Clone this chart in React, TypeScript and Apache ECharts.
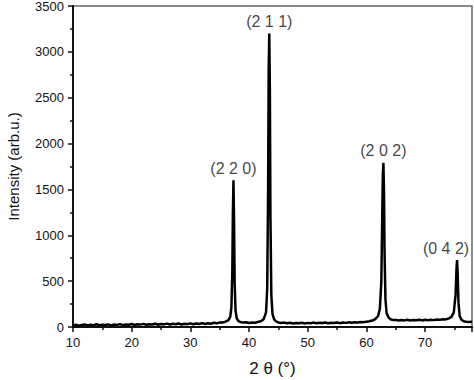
import React, { useEffect, useRef } from "react";
import * as echarts from "echarts";

const twoTheta: number[] = [
  10, 10.5, 11, 11.5, 12, 12.5, 13, 13.5, 14, 14.5, 15, 15.5, 16, 16.5, 17, 17.5,
  18, 18.5, 19, 19.5, 20, 20.5, 21, 21.5, 22, 22.5, 23, 23.5, 24, 24.5, 25, 25.5,
  26, 26.5, 27, 27.5, 28, 28.5, 29, 29.5, 30, 30.5, 31, 31.5, 32, 32.5, 33, 33.5,
  34, 34.5, 35, 35.5, 36, 36.5, 36.8, 37.0, 37.15, 37.25, 37.35, 37.45, 37.55, 37.7,
  37.9, 38.2, 38.5, 39, 39.5, 40, 40.5, 41, 41.5, 42, 42.5, 42.9, 43.1, 43.25, 43.35,
  43.45, 43.55, 43.65, 43.8, 44.0, 44.3, 44.7, 45, 45.5, 46, 46.5, 47, 47.5, 48, 48.5,
  49, 49.5, 50, 50.5, 51, 51.5, 52, 52.5, 53, 53.5, 54, 54.5, 55, 55.5, 56, 56.5, 57,
  57.5, 58, 58.5, 59, 59.5, 60, 60.5, 61, 61.5, 62, 62.3, 62.55, 62.7, 62.8, 62.9, 63.0,
  63.1, 63.25, 63.45, 63.8, 64.2, 64.7, 65, 65.5, 66, 66.5, 67, 67.5, 68, 68.5, 69, 69.5,
  70, 70.5, 71, 71.5, 72, 72.5, 73, 73.5, 74, 74.5, 74.9, 75.2, 75.35, 75.45, 75.55,
  75.7, 75.9, 76.2, 76.6, 77, 77.5, 78,
];

const intensity: number[] = [
  18, 25, 15, 22, 28, 17, 24, 20, 30, 19, 26, 21, 29, 18, 27, 23,
  31, 20, 28, 24, 33, 22, 30, 26, 34, 24, 31, 27, 36, 25, 33, 29,
  37, 27, 35, 30, 38, 28, 36, 31, 40, 30, 38, 33, 42, 32, 41, 36,
  46, 40, 50, 48, 58, 75, 110, 220, 600, 1250, 1600, 1150, 480, 180,
  95, 65, 55, 48, 52, 44, 50, 46, 55, 62, 85, 160, 420, 1500, 2800,
  3200, 2600, 1200, 350, 140, 80, 58, 50, 44, 48, 40, 46, 38, 44, 41,
  47, 39, 45, 42, 48, 40, 46, 43, 49, 41, 47, 44, 50, 42, 48, 45, 51,
  46, 52, 49, 55, 53, 58, 62, 70, 85, 120, 200, 500, 1200, 1650, 1790, 1500,
  800, 300, 150, 100, 82, 75, 78, 70, 76, 72, 79, 71, 77, 73, 80, 72,
  78, 74, 80, 75, 82, 78, 85, 83, 92, 110, 160, 350, 620, 730, 600,
  260, 120, 80, 62, 58, 55, 57,
];

// Peak annotations
const peakNames: string[] = ["(2 2 0)", "(2 1 1)", "(2 0 2)", "(0 4 2)"];
const peakTheta: number[] = [37.35, 43.45, 62.9, 75.45];
const peakIntensity: number[] = [1600, 3200, 1790, 730];
const peakLabelShift: number[] = [0, 0, 0, -11];

export default function App() {
  const ref = useRef<HTMLDivElement>(null);

  useEffect(() => {
    if (!ref.current) return;
    const chart = echarts.init(ref.current, undefined, { renderer: "svg" });
    const font = "'Liberation Sans', Arial, sans-serif";
    chart.setOption({
      animation: false,
      grid: {
        left: 73,
        right: 2,
        top: 6,
        bottom: 53,
        show: true,
        borderColor: "#666",
        borderWidth: 1.5,
        outerBoundsMode: "none",
        containLabel: false,
      },
      xAxis: {
        type: "value",
        min: 10,
        max: 78,
        interval: 10,
        name: "2 θ (°)",
        nameLocation: "middle",
        nameGap: 33,
        nameTextStyle: { fontFamily: font, fontSize: 17, color: "#111" },
        axisLine: { show: true, onZero: false, lineStyle: { color: "#111", width: 2 } },
        axisTick: { show: true, inside: false, length: 5, lineStyle: { color: "#111", width: 1.5 } },
        minorTick: { show: true, splitNumber: 2, length: 3, lineStyle: { color: "#111", width: 1.5 } },
        axisLabel: { fontFamily: font, fontSize: 13, color: "#111", margin: 9, showMaxLabel: false },
        splitLine: { show: false },
      },
      yAxis: {
        type: "value",
        min: 0,
        max: 3500,
        interval: 500,
        name: "Intensity (arb.u.)",
        nameLocation: "middle",
        nameGap: 52,
        nameTextStyle: { fontFamily: font, fontSize: 15, color: "#111" },
        axisLine: { show: true, onZero: false, lineStyle: { color: "#111", width: 2 } },
        axisTick: { show: true, inside: false, length: 5, lineStyle: { color: "#111", width: 1.5 } },
        minorTick: { show: true, splitNumber: 2, length: 3, lineStyle: { color: "#111", width: 1.5 } },
        axisLabel: {
          fontFamily: font,
          fontSize: 13,
          color: "#111",
          margin: 9,
          formatter: (v: number) => String(v),
        },
        splitLine: { show: false },
      },
      series: [
        {
          type: "line",
          data: twoTheta.map((t, i) => [t, intensity[i]]),
          showSymbol: false,
          symbol: "none",
          lineStyle: { color: "#000", width: 2.5 },
          silent: true,
          z: 3,
        },
        {
          type: "scatter",
          symbolSize: 0,
          silent: true,
          data: peakNames.map((n, i) => ({
            name: n,
            value: [peakTheta[i], peakIntensity[i]],
            label: {
              show: true,
              position: "top",
              distance: 4,
              offset: [peakLabelShift[i], 0],
              formatter: "{b}",
              fontFamily: font,
              fontSize: 16,
              color: "#111",
            },
          })),
          z: 4,
        },
      ],
    });
    return () => chart.dispose();
  }, []);

  return (
    <div
      ref={ref}
      style={{ position: "absolute", left: 0, top: 0, width: 474, height: 380, background: "#fff" }}
    />
  );
}
